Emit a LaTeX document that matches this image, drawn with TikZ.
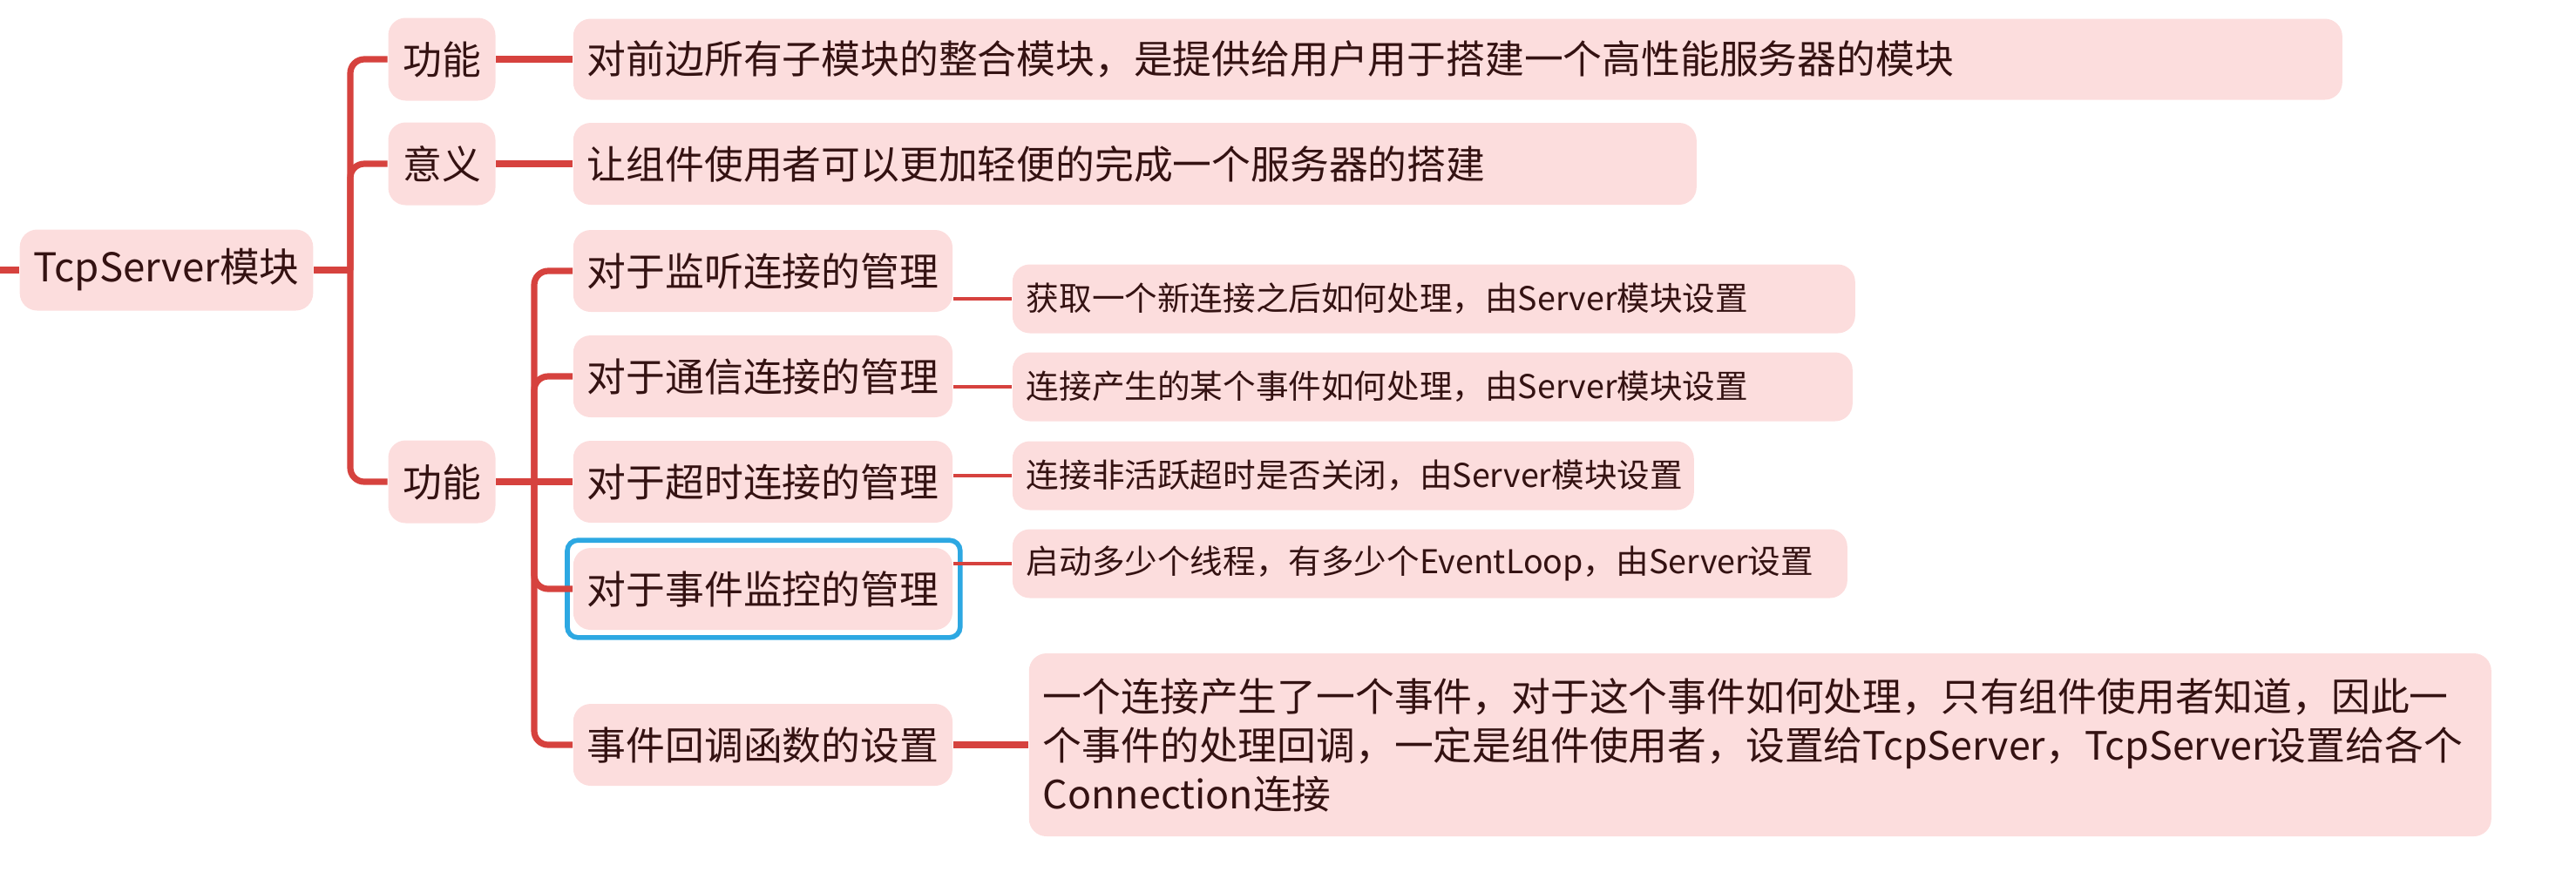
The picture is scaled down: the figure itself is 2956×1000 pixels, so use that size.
\documentclass[tikz,border=0pt]{standalone}
\usepackage{fontspec}
\setmainfont{Noto Sans CJK SC}
\definecolor{boxfill}{RGB}{252,221,221}
\definecolor{linered}{RGB}{214,66,62}
\definecolor{txt}{RGB}{52,18,18}
\definecolor{selblue}{RGB}{45,168,226}
\begin{document}
\begin{tikzpicture}[x=0.25pt,y=-0.25pt,
  box/.style={fill=boxfill, rounded corners=5pt, text=txt, inner xsep=4pt, inner ysep=0pt,
    font=\fontsize{11.2pt}{14pt}\selectfont},
  smallbox/.style={box, font=\fontsize{9.4pt}{12pt}\selectfont},
  conn/.style={draw=linered, line width=1.8pt},
  thinconn/.style={draw=linered, line width=1.1pt},
  sel/.style={draw=selblue, line width=1.4pt, rounded corners=3pt}
]
\useasboundingbox (0,0) rectangle (2956,1000);

% root and level 1
\node[box, minimum width=83.25pt, minimum height=23.25pt, font=\fontsize{11.4pt}{14pt}\selectfont] (root) at (191,310) {TcpServer模块};
\node[box, minimum width=30.75pt, minimum height=23.75pt] (fa) at (507,68) {功能};
\node[box, minimum width=30.75pt, minimum height=23.75pt] (yy) at (507,188) {意义};
\node[box, minimum width=30.75pt, minimum height=23.75pt] (fb) at (507,553) {功能};

% level 2
\node[box, anchor=west, text width=499.5pt, align=left, minimum height=23.25pt] (da) at (657,68)
  {对前边所有子模块的整合模块，是提供给用户用于搭建一个高性能服务器的模块};
\node[box, anchor=west, text width=314.25pt, align=left, minimum height=23.5pt] (db) at (657,188)
  {让组件使用者可以更加轻便的完成一个服务器的搭建};

\node[box, anchor=west, minimum width=108.75pt, minimum height=23.5pt] (c1) at (657,311) {对于监听连接的管理};
\node[box, anchor=west, minimum width=108.75pt, minimum height=23.5pt] (c2) at (657,432) {对于通信连接的管理};
\node[box, anchor=west, minimum width=108.75pt, minimum height=23.5pt] (c3) at (657,553) {对于超时连接的管理};
\node[box, anchor=west, minimum width=108.75pt, minimum height=23.5pt] (c4) at (657,676) {对于事件监控的管理};
\node[box, anchor=west, minimum width=108.75pt, minimum height=23.5pt] (c5) at (657,855) {事件回调函数的设置};

% level 3
\node[smallbox, anchor=west, text width=233.75pt, align=left, minimum height=19.75pt] (e1) at (1161,343)
  {获取一个新连接之后如何处理，由Server模块设置};
\node[smallbox, anchor=west, text width=233pt, align=left, minimum height=19.75pt] (e2) at (1161,444)
  {连接产生的某个事件如何处理，由Server模块设置};
\node[smallbox, anchor=west, text width=187.5pt, align=left, minimum height=19.75pt] (e3) at (1161,546)
  {连接非活跃超时是否关闭，由Server模块设置};
\node[smallbox, anchor=west, text width=231.5pt, align=left, minimum height=19.75pt] (e4) at (1161,647)
  {启动多少个线程，有多少个EventLoop，由Server设置};
\node[box, anchor=west, text width=411.5pt, align=left, minimum height=52.5pt,
  font=\fontsize{11.2pt}{14pt}\selectfont] (e5) at (1180,855)
  {一个连接产生了一个事件，对于这个事件如何处理，只有组件使用者知道，因此一\\
   个事件的处理回调，一定是组件使用者，设置给TcpServer，TcpServer设置给各个\\
   Connection连接};

% selection frame
\draw[sel] ([xshift=-1.5pt,yshift=2pt]c4.north west) rectangle ([xshift=2pt,yshift=-2pt]c4.south east);

% connectors
\coordinate (lft) at (0,310);
\coordinate (j1) at (402,310);
\coordinate (j2) at (613,553);
\draw[conn] (lft) -- (root.west);
\draw[conn] (root.east) -- (j1);
\draw[conn, rounded corners=4pt] (j1) |- (fa.west);
\draw[conn, rounded corners=4pt] (j1) |- (yy.west);
\draw[conn, rounded corners=4pt] (j1) |- (fb.west);
\draw[conn] (fa.east) -- (da.west);
\draw[conn] (yy.east) -- (db.west);
\draw[conn] (fb.east) -- (j2);
\draw[conn, rounded corners=4pt] (j2) |- (c1.west);
\draw[conn, rounded corners=4pt] (j2) |- (c2.west);
\draw[conn] (j2) -- (c3.west);
\draw[conn, rounded corners=4pt] (j2) |- (c4.west);
\draw[conn, rounded corners=4pt] (j2) |- (c5.west);
\draw[thinconn] (c1.east |- e1.west) -- (e1.west);
\draw[thinconn] (c2.east |- e2.west) -- (e2.west);
\draw[thinconn] (c3.east |- e3.west) -- (e3.west);
\draw[thinconn] (c4.east |- e4.west) -- (e4.west);
\draw[conn] (c5.east) -- (e5.west);
\end{tikzpicture}
\end{document}
